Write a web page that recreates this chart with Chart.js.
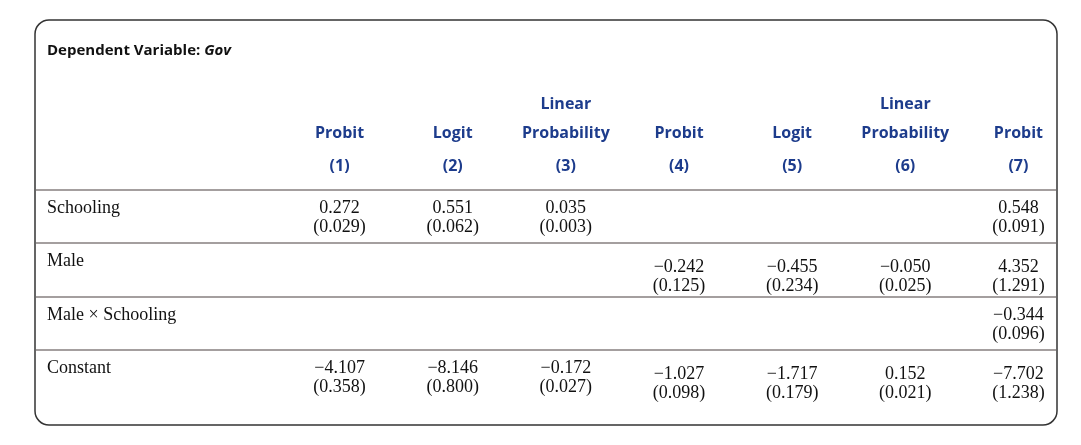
<!DOCTYPE html>
<html><head><meta charset="utf-8">
<script src="https://cdn.jsdelivr.net/npm/chart.js@4"></script>
<style>html,body{margin:0;padding:0;background:#fff}#wrap{width:1081px;height:445px}</style>
</head><body><div id="wrap"><canvas id="c" width="1081" height="445"></canvas></div>
<script>
const columns = ['(1)','(2)','(3)','(4)','(5)','(6)','(7)'];
const models = ['Probit','Logit','Linear\nProbability','Probit','Logit','Linear\nProbability','Probit'];
const rows = ['Schooling','Male','Male \u00d7 Schooling','Constant'];
const coefs = [
  ['0.272','0.551','0.035','','','','0.548'],
  ['','','','\u22120.242','\u22120.455','\u22120.050','4.352'],
  ['','','','','','','\u22120.344'],
  ['\u22124.107','\u22128.146','\u22120.172','\u22121.027','\u22121.717','0.152','\u22127.702']
];
const ses = [
  ['(0.029)','(0.062)','(0.003)','','','','(0.091)'],
  ['','','','(0.125)','(0.234)','(0.025)','(1.291)'],
  ['','','','','','','(0.096)'],
  ['(0.358)','(0.800)','(0.027)','(0.098)','(0.179)','(0.021)','(1.238)']
];
const rowTops=[190,243,297,350];
const tablePlugin={id:'tbl',afterDraw(ch){
  const c=ch.ctx,xs=ch.scales.x;
  c.save();
  c.strokeStyle='#333';c.lineWidth=1.5;
  c.beginPath();c.roundRect(35,20,1022,405,14);c.stroke();
  c.fillStyle='#111';c.font='bold 15px "Open Sans"';c.textBaseline='middle';c.textAlign='left';
  c.fillText('Dependent Variable: ',47,51);
  const w=c.measureText('Dependent Variable: ').width;
  c.font='italic bold 15px "Open Sans"';c.fillText('Gov',47+w,51);
  c.strokeStyle='#4a4040';c.lineWidth=1.2;
  rowTops.forEach(y=>{c.beginPath();c.moveTo(36,y);c.lineTo(1056,y);c.stroke();});
  c.fillStyle='#1d3c8c';c.textAlign='center';c.font='bold 16px "Open Sans"';
  columns.forEach((col,i)=>{
    const x=xs.getPixelForValue(i);
    const parts=models[i].split('\n');
    if(parts.length===2){c.fillText(parts[0],x,104);c.fillText(parts[1],x,133);}
    else c.fillText(parts[0],x,133);
    c.fillText(col,x,166);
  });
  c.fillStyle='#111';c.font='18px "Liberation Serif"';
  rows.forEach((r,ri)=>{
    const y=rowTops[ri]+18;
    c.textAlign='left';c.fillText(r,47,y);
    c.textAlign='center';
    for(let i=0;i<7;i++){
      const x=xs.getPixelForValue(i);
      const off=(ri===1||ri===3)&&i>=3?6:0;
      if(coefs[ri][i])c.fillText(coefs[ri][i],x,y+off);
      if(ses[ri][i])c.fillText(ses[ri][i],x,y+off+19);
    }
  });
  c.restore();
}};
new Chart(document.getElementById('c'),{
  type:'bar',
  data:{labels:columns,datasets:[{data:columns.map(()=>null)}]},
  options:{responsive:false,animation:false,events:[],
    layout:{padding:{left:283,right:6,top:0,bottom:0}},
    plugins:{legend:{display:false},tooltip:{enabled:false}},
    scales:{x:{display:false},y:{display:false}}},
  plugins:[tablePlugin]
});
</script></body></html>
